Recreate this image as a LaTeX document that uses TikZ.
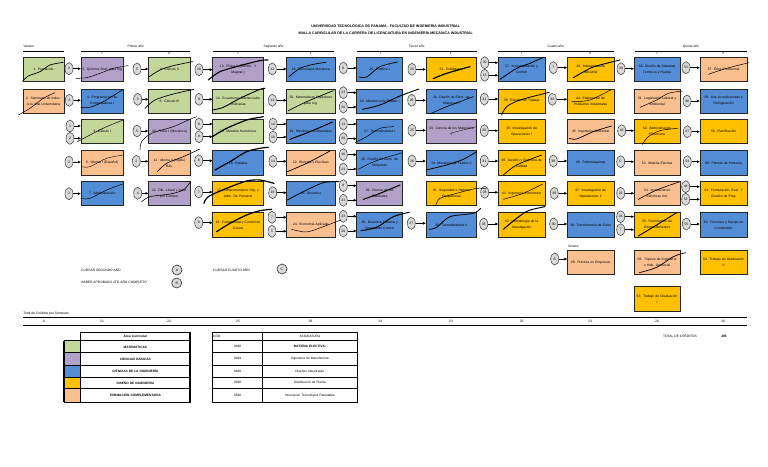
\documentclass[tikz,border=0pt]{standalone}
\usepackage{fontspec}
\setmainfont{Liberation Sans}
\usetikzlibrary{arrows.meta,shapes.geometric}
\definecolor{cMat}{HTML}{C4D79B}
\definecolor{cBas}{HTML}{B1A0C7}
\definecolor{cIng}{HTML}{538DD5}
\definecolor{cDis}{HTML}{FFC000}
\definecolor{cFor}{HTML}{FABF8F}
\tikzset{
 cellbase/.style={rectangle,inner sep=0pt,outer sep=0pt,align=center,font=\fontsize{3.35}{6}\selectfont},
 coursebox/.style={cellbase,draw=black!85,line width=1pt},
 tablecell/.style={cellbase,draw=black,line width=.7pt,font=\fontsize{3.2}{4}\selectfont},
 prereq/.style={ellipse,draw=black!80,line width=.55pt,dash pattern=on .7pt off .35pt,fill=black!15,inner sep=0pt,minimum width=8pt,minimum height=12pt,text=black,text height=2.4pt,text depth=.1pt,font=\fontsize{3.4}{4}\selectfont},
 code/.style={circle,draw=black!80,line width=.7pt,dash pattern=on .8pt off .35pt,fill=black!15,inner sep=0pt,minimum size=10pt,text height=2.4pt,text depth=.1pt,font=\fontsize{3.5}{4}\selectfont},
 arr/.style={-{Latex[length=3pt,width=3pt]},line width=.6pt,black},
 scrawl/.style={draw=black,line cap=round,line join=round},
 txt/.style={inner sep=0pt,text height=2.4pt,text depth=.7pt,font=\fontsize{3.3}{4}\selectfont,text=black},
 ttl/.style={inner sep=0pt,text height=2.6pt,text depth=.7pt,font=\fontsize{3.62}{4}\selectfont\bfseries},
 rulel/.style={draw=black,line width=.7pt},
}
% columns
\def\xla{23}\def\xra{64}
\def\xlb{81}\def\xrb{123.5}
\def\xlc{148.5}\def\xrc{190.5}
\def\xld{212.7}\def\xrd{263.5}
\def\xle{286.7}\def\xre{335}
\def\xlf{356.7}\def\xrf{402.7}
\def\xlg{426}\def\xrg{476.7}
\def\xlh{498.3}\def\xrh{545}
\def\xli{567.3}\def\xri{614}
\def\xlj{634.3}\def\xrj{680}
\def\xlk{700}\def\xrk{747.3}
% rows
\def\yta{57.3}\def\yba{81.7}
\def\ytb{89}\def\ybb{113}
\def\ytc{119.3}\def\ybc{143.7}
\def\ytd{150.7}\def\ybd{175}
\def\yte{181}\def\ybe{205.3}
\def\ytf{212.7}\def\ybf{237.3}
\def\ytg{250}\def\ybg{274.3}
\def\yth{286.7}\def\ybh{311.7}
\newcommand\mycell[7][]{%
 \pgfmathsetmacro\cw{#5-#3}\pgfmathsetmacro\ch{#6-#4}%
 \pgfmathsetmacro\cx{(#3+#5)/2}\pgfmathsetmacro\cy{(#4+#6)/2}%
 \node[#1,minimum width=\cw pt,minimum height=\ch pt,text width=\cw pt-0.5pt] (#2) at (\cx,\cy) {#7};}
\newcommand\course[5]{\mycell[coursebox,fill=#4]{#1}{\csname xl#2\endcsname}{\csname yt#3\endcsname}{\csname xr#2\endcsname}{\csname yb#3\endcsname}{#5}}
\newcount\pcnt
\newcommand\pre[4]{\global\advance\pcnt by 1
 \node[prereq] (p\the\pcnt) at (#1,#2) {#3};
 \draw[arr] (p\the\pcnt.east) -- (p\the\pcnt.east -| #4.west);}
\newcommand\scr[2]{\draw[scrawl,line width=#1pt] plot[smooth] coordinates {#2};}
\begin{document}
\begin{tikzpicture}[x=1pt,y=-1pt]
\useasboundingbox (0,0) rectangle (768,466);
\fill[white] (0,0) rectangle (768,466);
% titles
\node[ttl] (t1) at (385.7,26.7) {UNIVERSIDAD TECNOLÓGICA DE PANAMÁ - FACULTAD DE INGENIERÍA INDUSTRIAL};
\node[ttl] (t2) at (385.7,34) {MALLA CURRICULAR DE LA CARRERA DE LICENCIATURA EN INGENIERÍA MECÁNICA INDUSTRIAL};
% headers
\node[txt,anchor=west] (h0) at (23.3,47) {Verano};
\node[txt] (h1) at (135.7,47) {Primer año};
\node[txt] (h2) at (273.5,47) {Segundo año};
\node[txt] (h3) at (416.7,47) {Tercer año};
\node[txt] (h4) at (555.7,47) {Cuarto año};
\node[txt] (h5) at (691,47) {Quinto año};
\draw[rulel] (23,51.5) -- (64,51.5);
\draw[rulel] (81,51.5) -- (190,51.5);
\draw[rulel] (212.5,51.5) -- (334,51.5);
\draw[rulel] (356.7,51.5) -- (476.7,51.5);
\draw[rulel] (498,51.5) -- (613.5,51.5);
\draw[rulel] (635,51.5) -- (747.3,51.5);
\foreach \nx/\tx/\lab in {102/I/a,169.3/II/b,238/I/c,310.7/II/d,380.3/I/e,450.7/II/f,521.7/I/g,590/II/h,657/I/i,723.3/II/j}{
 \node[txt] (s\lab) at (\nx,53.8) {\tx};}
% courses
\course{c1}{a}{a}{cMat}{1. Precálculo}
\course{c2}{a}{b}{cFor}{2. Seminario de Induc.\\A la Vida Universitaria}
\course{c5}{b}{a}{cBas}{5. Química Gral. para Ing}
\course{c4}{b}{b}{cIng}{4. Programación de\\Computadoras I}
\course{c3}{b}{c}{cMat}{3. Cálculo I}
\course{c6}{b}{d}{cFor}{6. Idioma I (Español)}
\course{c7}{b}{e}{cIng}{7. Administración}
\course{c9}{c}{a}{cMat}{9. Cálculo II}
\course{c8}{c}{b}{cMat}{8. Cálculo III}
\course{c10}{c}{c}{cBas}{10. Física I (Mecánica)}
\course{c11}{c}{d}{cFor}{11. Idioma II (Inglés)\\Bás.}
\course{c12}{c}{e}{cBas}{12. Dib. Lineal y Asist.\\por Comput.}
\course{c13}{d}{a}{cBas}{13. Física II (Electric. Y\\Magnet.)}
\course{c14}{d}{b}{cMat}{14. Ecuaciones Diferenciales\\Ordinarias}
\course{c15}{d}{c}{cMat}{15. Métodos Numéricos}
\course{c16}{d}{d}{cIng}{16. Estática}
\course{c17}{d}{e}{cDis}{17. Comportamiento Org. y\\Adm. De Personal}
\course{c18}{d}{f}{cDis}{18. Contabilidad y Control de\\Costos}
\course{c19}{e}{a}{cIng}{19. Tecnología Mecánica}
\course{c20}{e}{b}{cMat}{20. Matemáticas Superiores\\para Ing.}
\course{c21}{e}{c}{cIng}{21. Mecánica de Materiales}
\course{c22}{e}{d}{cFor}{22. Biología y Electivas}
\course{c23}{e}{e}{cIng}{23. Dinámica}
\course{c24}{e}{f}{cFor}{24. Economía Aplicada}
\course{c25}{f}{a}{cIng}{25. Estática I}
\course{c26}{f}{b}{cIng}{26. Mecánica de Fluidos I}
\course{c27}{f}{c}{cIng}{27. Termodinámica I}
\course{c28}{f}{d}{cIng}{28. Diseño de Elem. de\\Máquinas}
\course{c29}{f}{e}{cBas}{29. Ciencia de los\\Materiales}
\course{c30}{f}{f}{cIng}{30. Dinámica Sistema y\\Sistema de Control}
\course{c31}{g}{a}{cDis}{31. Soldadura I}
\course{c32}{g}{b}{cIng}{32. Diseño de Elem. de\\Máquinas I}
\course{c33}{g}{c}{cBas}{33. Ciencia de los Materiales\\I}
\course{c34}{g}{d}{cIng}{34. Mecánica de Fluidos II}
\course{c35}{g}{e}{cDis}{35. Seguridad e Higiene\\Ocupacional}
\course{c36}{g}{f}{cIng}{36. Termodinámica II}
\course{c37}{h}{a}{cIng}{37. Instrumentación y\\Control}
\course{c38}{h}{b}{cDis}{38. Estudio del Trabajo}
\course{c39}{h}{c}{cDis}{39. Investigación de\\Operaciones I}
\course{c40}{h}{d}{cDis}{40. Gestión y Gerencia de\\Calidad}
\course{c41}{h}{e}{cDis}{41. Ingeniería Económica}
\course{c42}{h}{f}{cDis}{42. Metodología de la\\Investigación}
\course{c43}{i}{a}{cDis}{43. Mantenimiento\\Industrial}
\course{c44}{i}{b}{cDis}{44. Elaboración de\\Productos Industriales}
\course{c45}{i}{c}{cFor}{45. Ingeniería Ambiental}
\course{c46}{i}{d}{cIng}{46. Turbomáquinas}
\course{c47}{i}{e}{cDis}{47. Investigación de\\Operaciones II}
\course{c48}{i}{f}{cIng}{48. Transferencia de Calor}
\course{c49}{i}{g}{cFor}{49. Práctica en Empresas}
\node[txt,anchor=west] (ver) at (568,246.3) {Verano};
\course{c50}{j}{a}{cIng}{50. Diseño de Sistemas\\Térmicos y Fluidos}
\course{c51}{j}{b}{cFor}{51. Legislación Laboral y\\Ambiental}
\course{c52}{j}{c}{cDis}{52. Administración\\Financiera}
\course{c53}{j}{d}{cFor}{53. Materia Electiva}
\course{c54}{j}{e}{cFor}{54. Instalaciones\\Eléctricas Ind.}
\course{c55}{j}{f}{cDis}{55. Formulación de\\Emprendimientos}
\course{c56}{j}{g}{cFor}{56. Tópicos de Ingeniería\\e Hab. Gerencial}
\course{c63}{j}{h}{cDis}{63. Trabajo de Graduación\\I}
\course{c57}{k}{a}{cFor}{57. Ética Profesional}
\course{c58}{k}{b}{cIng}{58. Aire Acondicionado y\\Refrigeración}
\course{c59}{k}{c}{cDis}{59. Planificación}
\course{c60}{k}{d}{cIng}{60. Plantas de Potencia}
\course{c61}{k}{e}{cDis}{61. Formulación, Eval. Y\\Gestión de Proy.}
\course{c62}{k}{f}{cIng}{62. Procesos y Equipo de\\Combustión}
\course{c64}{k}{g}{cDis}{64. Trabajo de Graduación\\II}
% prerequisites
\pre{69}{68.7}{2}{c5}\pre{69.3}{100.3}{2}{c4}\pre{70}{126}{1}{c3}\pre{70}{138.3}{2}{c3}\pre{69}{162}{2}{c6}\pre{69}{193.7}{2}{c7}
\pre{137}{69}{5}{c9}\pre{137.7}{99.3}{5}{c8}\pre{137}{131}{5}{c10}\pre{136.3}{161.3}{2}{c11}\pre{137.7}{193.3}{4}{c12}
\pre{199}{69.7}{20}{c13}\pre{199}{99.3}{8}{c14}\pre{199}{124}{8}{c15}\pre{199}{136.7}{8}{c15}\pre{198.7}{160.7}{8}{c16}\pre{198.7}{192}{7}{c17}\pre{198.7}{222.7}{8}{c18}
\pre{272.3}{69}{12}{c19}\pre{272.3}{100.3}{14}{c20}\pre{273}{124}{14}{c21}\pre{273}{137}{16}{c21}\pre{273}{161.3}{14}{c22}\pre{272.7}{192.7}{16}{c23}\pre{272}{217.3}{7}{c24}\pre{272}{231.3}{5}{c24}
\pre{343.3}{68}{8}{c25}\pre{343.3}{92.7}{23}{c26}\pre{343.3}{107}{20}{c26}\pre{343.3}{124}{13}{c27}\pre{343.3}{138.7}{20}{c27}\pre{343.3}{154.7}{16}{c28}\pre{343.3}{169}{21}{c28}\pre{343.3}{185.7}{8}{c29}\pre{343.3}{200.3}{21}{c29}\pre{343.3}{216.3}{23}{c30}\pre{343.3}{231}{20}{c30}
\pre{412}{69.3}{25}{c31}\pre{411.7}{100.3}{26}{c32}\pre{412}{130.3}{25}{c33}\pre{412}{161}{26}{c34}\pre{411.3}{223.3}{27}{c36}
\pre{484.7}{62.7}{30}{c37}\pre{484.7}{75.3}{13}{c37}\pre{484.3}{99}{31}{c38}\pre{484.3}{130.7}{20}{c39}\pre{484.3}{161}{31}{c40}\pre{484.7}{192.3}{28}{c41}\pre{483.7}{224}{33}{c42}
\pre{553.3}{67.7}{7}{c43}\pre{552.3}{99.3}{33}{c44}\pre{553.3}{161}{38}{c46}\pre{554.3}{193.3}{39}{c47}\pre{553.7}{224}{30}{c48}\pre{554.7}{259}{B}{c49}
\pre{621}{68.7}{30}{c50}\pre{621.7}{130.7}{43}{c52}\pre{620.7}{161.7}{C}{c53}\pre{620.7}{193.3}{22}{c54}\pre{620.7}{216.7}{34}{c55}\pre{620.7}{229.7}{7}{c55}
\pre{686}{67.7}{52}{c57}\pre{687}{101}{38}{c58}\pre{687.3}{131.7}{47}{c59}\pre{687.3}{161.7}{54}{c60}\pre{685.7}{186.7}{44}{c61}\pre{685.7}{199.3}{52}{c61}\pre{686.3}{224}{55}{c62}
% handwritten strokes
\begin{scope}[shift={(0,20)},scale=0.3333]
\scr{.7}{(68,183)(85,168)(120,155)(150,135)(190,127)}
\scr{.5}{(228,175)(260,173)(300,160)(340,145)(385,137)}
\scr{.7}{(445,172)(480,150)(520,137)(578,125)}
\scr{1.1}{(625,180)(660,155)(720,137)(780,122)(804,120)}
\scr{.5}{(55,285)(90,265)(130,235)(165,218)}
\scr{.6}{(242,262)(270,262)(310,245)(370,208)}
\scr{.7}{(435,265)(465,240)(520,222)(582,208)}
\scr{.9}{(637,270)(670,262)(720,235)(780,208)(795,205)}
\scr{.5}{(232,365)(270,345)(320,320)(370,300)}
\scr{.5}{(420,390)(425,365)(455,340)(520,320)(565,300)(590,290)}
\scr{1.2}{(637,350)(680,325)(740,300)(780,292)(790,290)}
\scr{.4}{(245,440)(270,440)(320,415)(370,405)}
\scr{.6}{(472,455)(500,430)(550,410)(600,387)}
\scr{1.2}{(645,450)(690,425)(740,395)(780,385)(805,382)}
\end{scope}
\begin{scope}[shift={(0,170)},scale=0.3333]
\scr{.5}{(242,85)(270,85)(320,60)(368,42)}
\scr{.6}{(425,95)(450,80)(510,72)(550,60)(572,35)}
\scr{1.2}{(612,100)(625,80)(680,55)(740,33)(780,30)(822,40)}
\scr{1.2}{(650,185)(690,160)(740,135)(780,122)(815,118)}
\end{scope}
\begin{scope}[shift={(250,20)},scale=0.3333]
\scr{.7}{(117,170)(150,145)(190,133)(228,127)}
\scr{.7}{(115,272)(170,245)(250,212)}
\scr{1}{(120,358)(180,335)(248,306)}
\scr{.7}{(112,455)(170,430)(240,393)}
\scr{.7}{(328,171)(350,171)(390,140)(443,126)}
\scr{.9}{(338,268)(390,255)(450,228)(507,207)}
\scr{.5}{(315,368)(350,350)(390,325)(432,320)}
\scr{.5}{(325,448)(360,430)(400,415)(458,398)}
\scr{1.2}{(550,176)(590,160)(660,140)}
\scr{.6}{(540,282)(590,260)(670,230)}
\scr{.3}{(600,340)(640,330)(680,320)}
\scr{.8}{(528,450)(590,435)(640,418)(680,395)}
\end{scope}
\begin{scope}[shift={(250,170)},scale=0.3333]
\scr{.8}{(112,90)(160,65)(220,38)(268,35)}
\scr{1}{(340,88)(390,70)(450,45)}
\scr{.5}{(558,105)(570,85)(620,70)(680,55)(710,57)}
\scr{.5}{(125,178)(170,186)(220,170)(272,150)}
\scr{1}{(333,182)(380,172)(430,140)(478,127)}
\scr{.8}{(538,178)(560,172)(600,140)(670,130)(692,115)}
\end{scope}
\begin{scope}[shift={(500,40)},scale=0.3333]
\scr{.8}{(0,118)(50,85)(90,70)(130,52)}
\scr{.9}{(220,113)(270,85)(300,75)(360,60)}
\scr{.5}{(625,103)(680,85)(747,68)}
\scr{.8}{(5,225)(20,200)(60,180)(148,157)}
\scr{.5}{(215,185)(270,180)(335,148)}
\scr{.5}{(420,202)(470,180)(505,160)(548,153)}
\scr{.7}{(208,295)(230,297)(280,275)(335,258)}
\scr{.5}{(427,313)(445,290)(480,272)(533,265)}
\scr{.7}{(10,405)(50,375)(125,345)}
\scr{.5}{(10,478)(70,460)(128,432)}
\scr{.6}{(415,478)(470,450)(540,425)}
\end{scope}
\begin{scope}[shift={(500,190)},scale=0.3333]
\scr{1}{(10,118)(50,85)(85,62)(135,50)}
\scr{.9}{(415,138)(470,105)(530,68)}
\scr{.7}{(418,248)(470,232)(520,200)(557,188)}
\end{scope}
% notes
\node[txt,anchor=west] (n1) at (81,270.3) {CURSAR SEGUNDO AÑO};
\node[code] (ca) at (177,270) {A};
\node[txt,anchor=west] (n2) at (81,282.7) {HABER APROBADO 4TO AÑO COMPLETO};
\node[code] (cb) at (176.7,283) {B};
\node[txt,anchor=west] (n3) at (213,270.3) {CURSAR CUARTO AÑO};
\node[code] (cc) at (282,269) {C};
% credits
\node[txt,anchor=west] (tc) at (23.3,314) {Total de Créditos por Semestre};
\draw[rulel,line width=.8pt] (23,317.7) -- (747.3,317.7);
\draw[rulel,line width=.8pt] (23,325) -- (747.3,325);
\foreach \nx/\tx/\lab in {44/6/a,102/21/b,169/22/c,238/25/d,310.7/26/e,380.3/24/f,451/23/g,521.7/25/h,590/23/i,657/26/j,723.3/26/k}{
 \node[txt] (k\lab) at (\nx,321.5) {\tx};}
\node[txt] (tot) at (680,336.7) {TOTAL DE CRÉDITOS};
\node[txt,font=\fontsize{3.3}{4}\selectfont\bfseries] (totn) at (724,336.7) {285};
% legend left
\mycell[tablecell]{la}{80.7}{332.3}{190}{340.7}{\bfseries Área Curricular}
\foreach \yt/\yb/\col/\tx/\lab in {340.7/352.7/cMat/MATEMÁTICAS/a,352.7/365/cBas/CIENCIAS BÁSICAS/b,365/377.3/cIng/CIENCIAS DE LA INGENIERÍA/c,377.3/388.3/cDis/DISEÑO DE INGENIERÍA/d,388.3/402.3/cFor/FORMACIÓN COMPLEMENTARIA/e}{
 \mycell[tablecell,fill=\col]{sw\lab}{64}{\yt}{80.7}{\yb}{}
 \mycell[tablecell]{lg\lab}{80.7}{\yt}{190}{\yb}{\bfseries\tx}
}
\draw[line width=1.4pt] (64,340.7) -- (64,402.3);
\draw[line width=1.4pt] (190,332.3) -- (190,402.3);
% legend right
\mycell[tablecell,align=left]{ra}{212.7}{332.3}{262.7}{340.7}{CÓD.}
\mycell[tablecell]{rb}{262.7}{332.3}{357}{340.7}{ASIGNATURA}
\foreach \yt/\yb/\cd/\tx/\lab in {340.7/352.7/0490/\bfseries MATERIA ELECTIVA:/a,352.7/365/0499/Ingeniería de Manufactura/b,365/377.3/0488/Diseños Industriales/c,377.3/388.3/0490/Distribución de Planta/d,388.3/402.3/0590/Innovación Tecnológica Patentable/e}{
 \mycell[tablecell]{rc\lab}{212.7}{\yt}{262.7}{\yb}{\cd}
 \mycell[tablecell]{rt\lab}{262.7}{\yt}{357}{\yb}{\tx}
}
\end{tikzpicture}
\end{document}
